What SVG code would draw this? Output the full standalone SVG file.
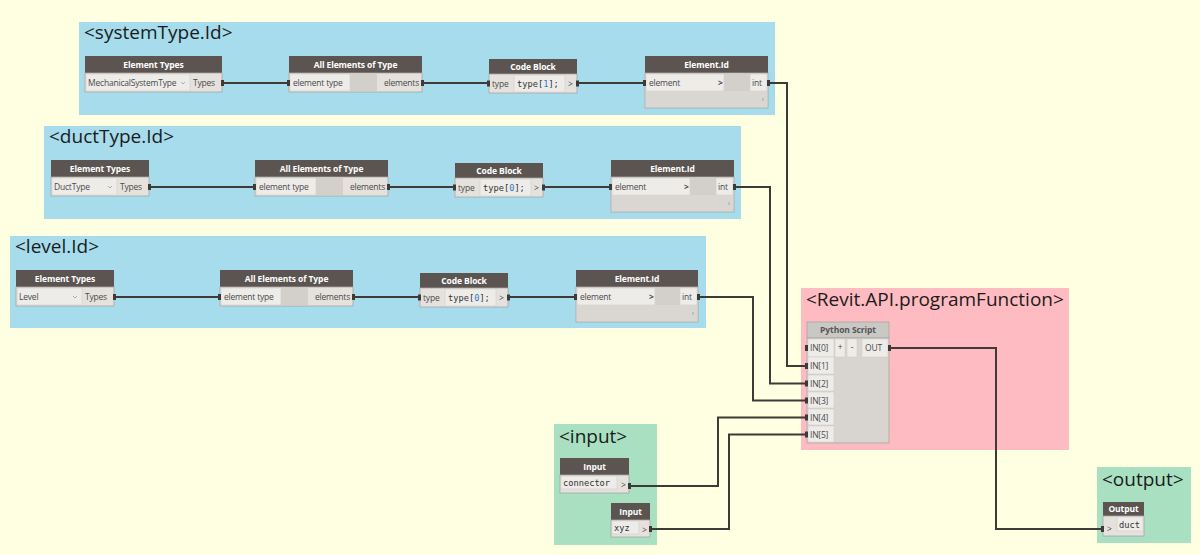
<svg xmlns="http://www.w3.org/2000/svg" width="1200" height="555" viewBox="0 0 1200 555">
<style>
.bg{fill:#FFFFE1}
.gb{fill:#A6DCEC}
.gp{fill:#FFBBC2}
.gg{fill:#A9E0C1}
.title{font-family:"Open Sans","Noto Sans",sans-serif;font-size:19px;fill:#1b1b1b}
.hdr{fill:#5B5451}
.ht{font-family:"Open Sans","Noto Sans",sans-serif;font-weight:bold;font-size:8.5px;fill:#ffffff;text-anchor:middle;letter-spacing:-0.1px}
.body{fill:#E5E2DE;stroke:#A9A6A2;stroke-width:0.8}
.lite{fill:#EEECE9;stroke:#CFCCC8;stroke-width:0.6}
.mid{fill:#D3CFCA}
.low{fill:#DAD7D3}
.lt{font-family:"Open Sans","Noto Sans",sans-serif;font-size:8.5px;fill:#4a4a4a;letter-spacing:-0.2px}
.code{font-family:"DejaVu Sans Mono","Liberation Mono",monospace;font-size:8.7px;fill:#333}
.num{fill:#2F7BC0}
.wire{fill:none;stroke:#3E3A36;stroke-width:2}
.port{fill:#3E3A36}
.chev{fill:none;stroke:#9a9a9a;stroke-width:0.8}
.phdr{fill:#CAC8C4;stroke:#A9A6A2;stroke-width:0.8}
.pht{font-family:"Open Sans","Noto Sans",sans-serif;font-weight:bold;font-size:8.5px;fill:#555;text-anchor:middle;letter-spacing:-0.1px}
.pbody{fill:#D8D5D0;stroke:#A9A6A2;stroke-width:0.8}
</style>
<defs>
<g id="tick"><line x1="0" y1="0" x2="0" y2="3" stroke="#9a9a9a" stroke-width="0.7"/></g>
</defs>
<rect class="bg" x="0" y="0" width="1200" height="555"/>

<!-- groups -->
<g id="group-systemType">
<rect class="gb" x="79" y="22" width="696" height="93"/>
<text class="title" x="84" y="39">&lt;systemType.Id&gt;</text>
</g>
<g id="group-ductType">
<rect class="gb" x="44" y="126" width="697" height="93"/>
<text class="title" x="49" y="143">&lt;ductType.Id&gt;</text>
</g>
<g id="group-level">
<rect class="gb" x="10" y="236" width="696" height="92"/>
<text class="title" x="15" y="253">&lt;level.Id&gt;</text>
</g>
<g id="group-program">
<rect class="gp" x="801" y="288" width="268" height="162"/>
<text class="title" x="806" y="306">&lt;Revit.API.programFunction&gt;</text>
</g>
<g id="group-input">
<rect class="gg" x="554" y="424" width="103" height="121"/>
<text class="title" x="559" y="443">&lt;input&gt;</text>
</g>
<g id="group-output">
<rect class="gg" x="1097" y="467" width="94" height="76"/>
<text class="title" x="1102" y="486">&lt;output&gt;</text>
</g>

<!-- connectors -->
<g id="connectors">
<path class="wire" d="M222,83 H289"/>
<path class="wire" d="M422,83 H489"/>
<path class="wire" d="M577,83 H645"/>
<path class="wire" d="M768,83 H787 V366 H808"/>
<path class="wire" d="M149,187 H255"/>
<path class="wire" d="M388,187 H455"/>
<path class="wire" d="M543,187 H611"/>
<path class="wire" d="M734,187 H770 V383.5 H808"/>
<path class="wire" d="M114,297 H220"/>
<path class="wire" d="M353,297 H420"/>
<path class="wire" d="M508,297 H576"/>
<path class="wire" d="M698,297 H753 V400.5 H808"/>
<path class="wire" d="M629,486 H718 V417.5 H808"/>
<path class="wire" d="M650,529 H729 V434.5 H808"/>
<path class="wire" d="M889,348 H996 V529 H1103"/>
</g>

<!-- systemType row -->
<g id="st-elementTypes" transform="translate(85,56)">
<rect class="hdr" x="0" y="0" width="137" height="17"/>
<text class="ht" x="68.5" y="11.5">Element Types</text>
<rect class="body" x="0" y="17" width="137" height="19"/>
<rect class="lite" x="1" y="18" width="104" height="17"/>
<text class="lt" x="3" y="30">MechanicalSystemType</text>
<polyline class="chev" points="96,26 98,28 100,26"/>
<text class="lt" x="108" y="30">Types</text>
<rect class="port" x="136" y="24" width="3" height="6"/>
</g>
<g id="st-allElements" transform="translate(289,56)">
<rect class="hdr" x="0" y="0" width="133" height="17"/>
<text class="ht" x="66.5" y="11.5">All Elements of Type</text>
<rect class="body" x="0" y="17" width="133" height="19"/>
<rect class="lite" x="1" y="18" width="60" height="17"/>
<rect class="mid" x="61" y="18" width="27" height="17"/>
<text class="lt" x="4" y="30">element type</text>
<text class="lt" x="130" y="30" text-anchor="end">elements</text>
<rect class="port" x="-2" y="24" width="3" height="6"/>
<rect class="port" x="132" y="24" width="3" height="6"/>
</g>
<g id="st-codeBlock" transform="translate(489,59)">
<rect class="hdr" x="0" y="0" width="88" height="15"/>
<text class="ht" x="44" y="10.5">Code Block</text>
<rect class="body" x="0" y="15" width="88" height="19"/>
<rect class="lite" x="25" y="16" width="51" height="17"/>
<text class="lt" x="3" y="28">type</text>
<text class="code" x="28" y="28">type[<tspan class="num">1</tspan>];</text>
<text class="lt" x="79" y="28">&gt;</text>
<rect class="port" x="-2" y="21.5" width="3" height="6"/>
<rect class="port" x="87" y="21.5" width="3" height="6"/>
</g>
<g id="st-elementId" transform="translate(645,56)">
<rect class="hdr" x="0" y="0" width="123" height="17"/>
<text class="ht" x="61.5" y="11.5">Element.Id</text>
<rect class="body" x="0" y="17" width="123" height="35"/>
<rect class="lite" x="1" y="18" width="78" height="17"/>
<rect class="mid" x="79" y="18" width="26" height="17"/>
<rect class="lite" x="105" y="18" width="17" height="17"/>
<rect class="low" x="1" y="35" width="121" height="16"/>
<text class="lt" x="4" y="30">element</text>
<text class="lt" x="73" y="30" font-weight="bold">&gt;</text>
<text class="lt" x="107" y="30">int</text>
<use href="#tick" x="118" y="42"/>
<rect class="port" x="-2" y="24" width="3" height="6"/>
<rect class="port" x="122" y="24" width="3" height="6"/>
</g>

<!-- ductType row -->
<g id="dt-elementTypes" transform="translate(51,160)">
<rect class="hdr" x="0" y="0" width="98" height="17"/>
<text class="ht" x="49" y="11.5">Element Types</text>
<rect class="body" x="0" y="17" width="98" height="19"/>
<rect class="lite" x="1" y="18" width="65" height="17"/>
<text class="lt" x="3" y="30">DuctType</text>
<polyline class="chev" points="57,26 59,28 61,26"/>
<text class="lt" x="69" y="30">Types</text>
<rect class="port" x="97" y="24" width="3" height="6"/>
</g>
<g id="dt-allElements" transform="translate(255,160)">
<rect class="hdr" x="0" y="0" width="133" height="17"/>
<text class="ht" x="66.5" y="11.5">All Elements of Type</text>
<rect class="body" x="0" y="17" width="133" height="19"/>
<rect class="lite" x="1" y="18" width="60" height="17"/>
<rect class="mid" x="61" y="18" width="27" height="17"/>
<text class="lt" x="4" y="30">element type</text>
<text class="lt" x="130" y="30" text-anchor="end">elements</text>
<rect class="port" x="-2" y="24" width="3" height="6"/>
<rect class="port" x="132" y="24" width="3" height="6"/>
</g>
<g id="dt-codeBlock" transform="translate(455,163)">
<rect class="hdr" x="0" y="0" width="88" height="15"/>
<text class="ht" x="44" y="10.5">Code Block</text>
<rect class="body" x="0" y="15" width="88" height="19"/>
<rect class="lite" x="25" y="16" width="51" height="17"/>
<text class="lt" x="3" y="28">type</text>
<text class="code" x="28" y="28">type[<tspan class="num">0</tspan>];</text>
<text class="lt" x="79" y="28">&gt;</text>
<rect class="port" x="-2" y="21.5" width="3" height="6"/>
<rect class="port" x="87" y="21.5" width="3" height="6"/>
</g>
<g id="dt-elementId" transform="translate(611,160)">
<rect class="hdr" x="0" y="0" width="123" height="17"/>
<text class="ht" x="61.5" y="11.5">Element.Id</text>
<rect class="body" x="0" y="17" width="123" height="35"/>
<rect class="lite" x="1" y="18" width="78" height="17"/>
<rect class="mid" x="79" y="18" width="26" height="17"/>
<rect class="lite" x="105" y="18" width="17" height="17"/>
<rect class="low" x="1" y="35" width="121" height="16"/>
<text class="lt" x="4" y="30">element</text>
<text class="lt" x="73" y="30" font-weight="bold">&gt;</text>
<text class="lt" x="107" y="30">int</text>
<use href="#tick" x="118" y="42"/>
<rect class="port" x="-2" y="24" width="3" height="6"/>
<rect class="port" x="122" y="24" width="3" height="6"/>
</g>

<!-- level row -->
<g id="lv-elementTypes" transform="translate(16,270)">
<rect class="hdr" x="0" y="0" width="98" height="17"/>
<text class="ht" x="49" y="11.5">Element Types</text>
<rect class="body" x="0" y="17" width="98" height="19"/>
<rect class="lite" x="1" y="18" width="65" height="17"/>
<text class="lt" x="3" y="30">Level</text>
<polyline class="chev" points="57,26 59,28 61,26"/>
<text class="lt" x="69" y="30">Types</text>
<rect class="port" x="97" y="24" width="3" height="6"/>
</g>
<g id="lv-allElements" transform="translate(220,270)">
<rect class="hdr" x="0" y="0" width="133" height="17"/>
<text class="ht" x="66.5" y="11.5">All Elements of Type</text>
<rect class="body" x="0" y="17" width="133" height="19"/>
<rect class="lite" x="1" y="18" width="60" height="17"/>
<rect class="mid" x="61" y="18" width="27" height="17"/>
<text class="lt" x="4" y="30">element type</text>
<text class="lt" x="130" y="30" text-anchor="end">elements</text>
<rect class="port" x="-2" y="24" width="3" height="6"/>
<rect class="port" x="132" y="24" width="3" height="6"/>
</g>
<g id="lv-codeBlock" transform="translate(420,273)">
<rect class="hdr" x="0" y="0" width="88" height="15"/>
<text class="ht" x="44" y="10.5">Code Block</text>
<rect class="body" x="0" y="15" width="88" height="19"/>
<rect class="lite" x="25" y="16" width="51" height="17"/>
<text class="lt" x="3" y="28">type</text>
<text class="code" x="28" y="28">type[<tspan class="num">0</tspan>];</text>
<text class="lt" x="79" y="28">&gt;</text>
<rect class="port" x="-2" y="21.5" width="3" height="6"/>
<rect class="port" x="87" y="21.5" width="3" height="6"/>
</g>
<g id="lv-elementId" transform="translate(576,270)">
<rect class="hdr" x="0" y="0" width="122" height="17"/>
<text class="ht" x="61" y="11.5">Element.Id</text>
<rect class="body" x="0" y="17" width="122" height="35"/>
<rect class="lite" x="1" y="18" width="78" height="17"/>
<rect class="mid" x="79" y="18" width="25" height="17"/>
<rect class="lite" x="104" y="18" width="17" height="17"/>
<rect class="low" x="1" y="35" width="120" height="16"/>
<text class="lt" x="4" y="30">element</text>
<text class="lt" x="73" y="30" font-weight="bold">&gt;</text>
<text class="lt" x="106" y="30">int</text>
<use href="#tick" x="117" y="42"/>
<rect class="port" x="-2" y="24" width="3" height="6"/>
<rect class="port" x="121" y="24" width="3" height="6"/>
</g>

<!-- Python Script -->
<g id="pythonScript" transform="translate(807,322)">
<rect class="phdr" x="0" y="0" width="82" height="16"/>
<text class="pht" x="41" y="11">Python Script</text>
<rect class="pbody" x="0" y="16" width="82" height="105"/>
<rect class="lite" x="1" y="17" width="26" height="18"/>
<rect class="lite" x="28" y="17" width="10" height="18"/>
<rect class="lite" x="40" y="17" width="10" height="18"/>
<rect class="lite" x="55" y="17" width="26" height="18"/>
<text class="lt" x="3" y="29">IN[0]</text>
<text class="lt" x="33" y="28" text-anchor="middle" font-size="7">+</text>
<text class="lt" x="45" y="28" text-anchor="middle" font-size="7">-</text>
<text class="lt" x="58" y="29">OUT</text>
<rect class="lite" x="1" y="35" width="26" height="17"/>
<text class="lt" x="3" y="47">IN[1]</text>
<rect class="lite" x="1" y="53" width="26" height="16"/>
<text class="lt" x="3" y="64.5">IN[2]</text>
<rect class="lite" x="1" y="70" width="26" height="16"/>
<text class="lt" x="3" y="81.5">IN[3]</text>
<rect class="lite" x="1" y="87" width="26" height="16"/>
<text class="lt" x="3" y="98.5">IN[4]</text>
<rect class="lite" x="1" y="104" width="26" height="16"/>
<text class="lt" x="3" y="115.5">IN[5]</text>
<rect class="port" x="-2" y="23" width="3" height="6"/>
<rect class="port" x="-2" y="41" width="3" height="6"/>
<rect class="port" x="-2" y="58.5" width="3" height="6"/>
<rect class="port" x="-2" y="75.5" width="3" height="6"/>
<rect class="port" x="-2" y="92.5" width="3" height="6"/>
<rect class="port" x="-2" y="109.5" width="3" height="6"/>
<rect class="port" x="81" y="23" width="3" height="6"/>
</g>

<!-- Inputs -->
<g id="input-connector" transform="translate(560,458)">
<rect class="hdr" x="0" y="0" width="69" height="17"/>
<text class="ht" x="34.5" y="11.5">Input</text>
<rect class="body" x="0" y="17" width="69" height="18"/>
<rect class="lite" x="1" y="18" width="56" height="13"/>
<text class="code" x="3" y="28">connector</text>
<text class="lt" x="61" y="30" font-size="7">&gt;</text>
<rect class="port" x="68" y="25" width="3" height="6"/>
</g>
<g id="input-xyz" transform="translate(611,503)">
<rect class="hdr" x="0" y="0" width="39" height="17"/>
<text class="ht" x="19.5" y="11.5">Input</text>
<rect class="body" x="0" y="17" width="39" height="17"/>
<rect class="lite" x="1" y="18" width="27" height="13"/>
<text class="code" x="3" y="28">xyz</text>
<text class="lt" x="31" y="30" font-size="7">&gt;</text>
<rect class="port" x="38" y="23" width="3" height="6"/>
</g>

<!-- Output -->
<g id="output-duct" transform="translate(1103,502)">
<rect class="hdr" x="0" y="0" width="41" height="14"/>
<text class="ht" x="20.5" y="10">Output</text>
<rect class="body" x="0" y="14" width="41" height="20"/>
<rect class="lite" x="14" y="15" width="26" height="14"/>
<text class="lt" x="4" y="30" font-size="7">&gt;</text>
<text class="code" x="16" y="26">duct</text>
<rect class="port" x="-2" y="24" width="3" height="6"/>
</g>
</svg>
